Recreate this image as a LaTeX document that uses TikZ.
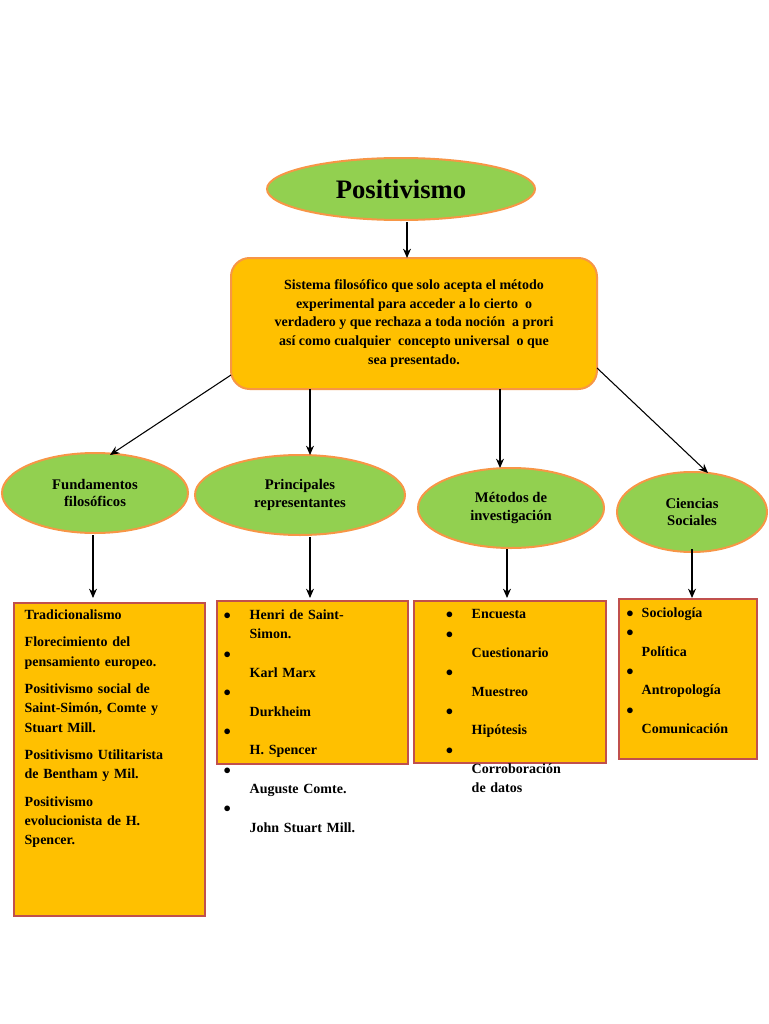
\documentclass[tikz,border=0pt]{standalone}
\usepackage{fontspec}
\setmainfont{Liberation Serif}
\usetikzlibrary{shapes.geometric,arrows.meta,shadows}
\definecolor{gr}{HTML}{92D050}
\definecolor{og}{HTML}{FFC000}
\definecolor{ob}{HTML}{F79646}
\definecolor{rb}{HTML}{C0504D}
\begin{document}
\begin{tikzpicture}[x=0.75pt,y=-0.75pt,
 ell/.style={ellipse,draw=ob,line width=1.5pt,fill=gr,inner sep=0pt,font=\bfseries\fontsize{11}{13}\selectfont,align=center},
 bx/.style={draw=rb,line width=1.5pt,fill=og,anchor=north west,drop shadow={shadow xshift=1pt,shadow yshift=-1pt,fill=black!40},inner sep=0pt},
 arr/.style={-{Stealth[length=7pt,width=6pt]},line width=0.8pt},
 lt/.style={font=\bfseries\fontsize{10.5}{14.5}\selectfont,align=left,anchor=north west,text width=#1}]
\fill[white] (0,0) rectangle (768,1024);
\node[ell,minimum width=268*0.75pt,minimum height=62*0.75pt,font=\bfseries\fontsize{20}{22}\selectfont] (p) at (401,189) {Positivismo};
\node[draw=ob,line width=1.5pt,fill=og,rounded corners=14pt,minimum width=366*0.75pt,minimum height=131*0.75pt,font=\bfseries\fontsize{10.5}{14}\selectfont,align=center] (s) at (414,323.5) {Sistema filosófico que solo acepta el método\\experimental para acceder a lo cierto\ \ o\\verdadero y que rechaza a toda noción\ \ a prori\\así como cualquier\ \ concepto universal\ \ o que\\sea presentado.};
\coordinate (pa) at (407,222); \coordinate (sa) at (407,258);
\draw[arr] (pa) -- (sa);
\node[ell,minimum width=186*0.75pt,minimum height=80*0.75pt] (e1) at (95,493) {Fundamentos\\filosóficos};
\node[ell,minimum width=210*0.75pt,minimum height=80*0.75pt] (e2) at (300,495) {Principales\\representantes};
\node[ell,minimum width=186*0.75pt,minimum height=80*0.75pt] (e3) at (511,508) {Métodos de\\investigación};
\node[ell,minimum width=150*0.75pt,minimum height=80*0.75pt] (e4) at (692,512) {Ciencias\\Sociales};
\coordinate (s1) at (231,375); \coordinate (t1) at (110,455);
\coordinate (s2) at (310,389); \coordinate (t2) at (310,455);
\coordinate (s3) at (500,389); \coordinate (t3) at (500,468);
\coordinate (s4) at (597,368); \coordinate (t4) at (708,473);
\draw[arr] (s1)--(t1); \draw[arr] (s2)--(t2); \draw[arr] (s3)--(t3); \draw[arr] (s4)--(t4);
\node[bx,minimum width=191*0.75pt,minimum height=313*0.75pt] (b1) at (13,602) {};
\node[bx,minimum width=191*0.75pt,minimum height=163*0.75pt] (b2) at (216,600) {};
\node[bx,minimum width=192*0.75pt,minimum height=162*0.75pt] (b3) at (413,600) {};
\node[bx,minimum width=138*0.75pt,minimum height=160*0.75pt] (b4) at (618,598) {};
\coordinate (u1) at (93,535); \coordinate (v1) at (93,598);
\coordinate (u2) at (310,537); \coordinate (v2) at (310,598);
\coordinate (u3) at (507,549); \coordinate (v3) at (507,598);
\coordinate (u4) at (692,549); \coordinate (v4) at (692,598);
\draw[arr] (u1)--(v1); \draw[arr] (u2)--(v2); \draw[arr] (u3)--(v3); \draw[arr] (u4)--(v4);
\node[lt=180*0.75pt] (l1) at (20,605) {Tradicionalismo\\[6pt]Florecimiento del\\pensamiento europeo.\\[6pt]Positivismo social de\\Saint-Simón, Comte y\\Stuart Mill.\\[6pt]Positivismo Utilitarista\\de Bentham y Mil.\\[6pt]Positivismo\\evolucionista de H.\\Spencer.};
\node[lt=175*0.75pt] (l2) at (245,605) {\llap{$\bullet$\hspace{14pt}}Henri de Saint-\\Simon.\\\llap{$\bullet$\hspace{14pt}}Karl Marx\\\llap{$\bullet$\hspace{14pt}}Durkheim\\\llap{$\bullet$\hspace{14pt}}H. Spencer\\\llap{$\bullet$\hspace{14pt}}Auguste Comte.\\\llap{$\bullet$\hspace{14pt}}John Stuart Mill.};
\node[lt=130*0.75pt] (l3) at (467,605) {\llap{$\bullet$\hspace{14pt}}Encuesta\\\llap{$\bullet$\hspace{14pt}}Cuestionario\\\llap{$\bullet$\hspace{14pt}}Muestreo\\\llap{$\bullet$\hspace{14pt}}Hipótesis\\\llap{$\bullet$\hspace{14pt}}Corroboración\\de datos};
\node[lt=120*0.75pt] (l4) at (637,603) {\llap{$\bullet$\hspace{6pt}}Sociología\\\llap{$\bullet$\hspace{6pt}}Política\\\llap{$\bullet$\hspace{6pt}}Antropología\\\llap{$\bullet$\hspace{6pt}}Comunicación};
\end{tikzpicture}
\end{document}
